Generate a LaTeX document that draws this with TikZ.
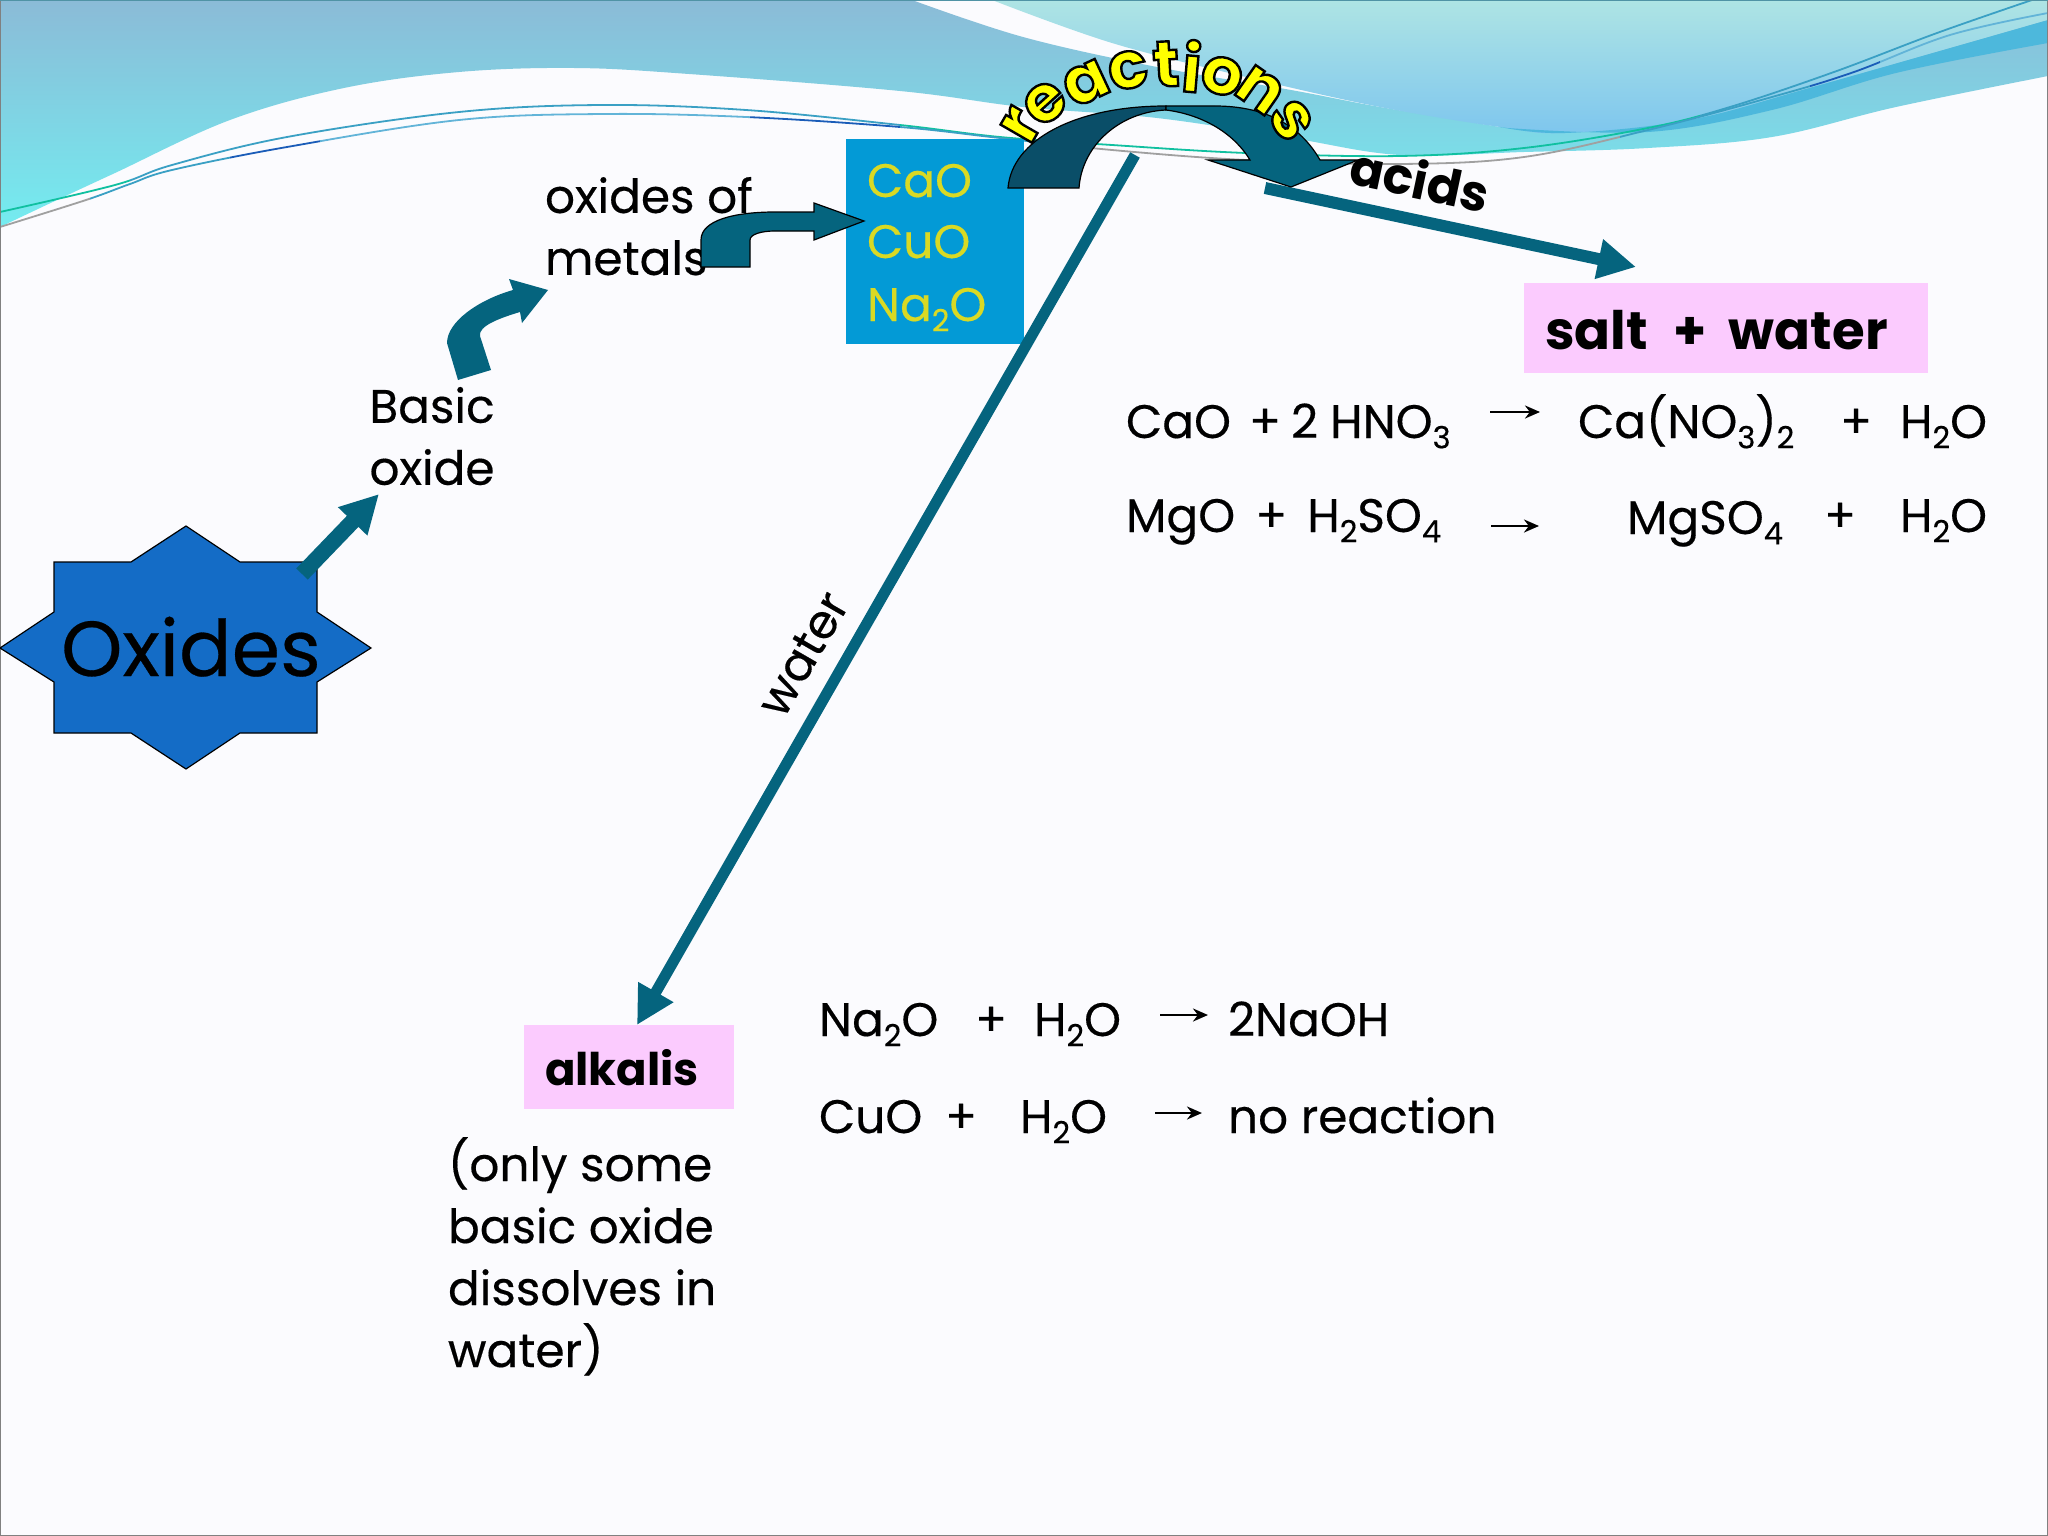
\documentclass[tikz,border=0pt]{standalone}
\usepackage{fontspec}
\usepackage{graphicx}
\setmainfont{Poppins}[FakeBold=0.35,BoldFeatures={FakeBold=0}]
\usetikzlibrary{arrows.meta}
\definecolor{bgc}{HTML}{FBFBFE}
\definecolor{teald}{HTML}{05647E}
\definecolor{tealdd}{HTML}{0A4E68}
\definecolor{boxblue}{HTML}{039AD6}
\definecolor{starblue}{HTML}{146CC6}
\definecolor{pinkb}{HTML}{FBCBFE}
\definecolor{yel}{HTML}{D9D924}
\definecolor{yelb}{HTML}{FFFF00}
\definecolor{bOneTop}{HTML}{8BBBD7}
\definecolor{bOneBot}{HTML}{74ECF0}
\definecolor{bTwo}{HTML}{4DB8DC}
\definecolor{bThreeTop}{HTML}{AEE4E4}
\definecolor{bThreeBot}{HTML}{7EC6EE}
\definecolor{lgreen}{HTML}{10C0A0}
\definecolor{lteal}{HTML}{3AA0C4}
\definecolor{lblue}{HTML}{1A5CB8}
\definecolor{lsky}{HTML}{62B4D8}
\definecolor{lgray}{HTML}{A0A0A0}
\newcommand{\lw}[1]{\raisebox{-0.22em}{\scalebox{.65}{#1}}}
\newcommand{\outl}[1]{\special{pdf:code 2 Tr 2.4 w 0 0 0 RG}#1\special{pdf:code 0 Tr}}
\newcommand{\lineA}{(0,212) (115,185) (172,165) (287,137) (459,112) (603,105) (746,110) (900,125) (1000,137) (1112,145) (1246,153) (1400,156) (1524,148) (1648,128) (1730,107) (1834,72) (1937,33) (2032,0)}
\newcommand{\lineB}{(0,227) (86,200) (130,184) (172,170) (287,147) (459,120) (603,114) (746,117) (900,127) (1000,138) (1112,150) (1246,160) (1400,164) (1524,157) (1648,130) (1772,97) (1854,72) (1950,35) (2048,13)}
\newcommand{\seg}[4]{\begin{scope}\clip (#3,0) rectangle (#4,300);\draw[thinline,#2] plot[smooth,tension=.6] coordinates {#1};\end{scope}}
\tikzset{
  txt/.style={inner sep=0pt,outer sep=0pt,font=\fontsize{47}{62}\selectfont,text=black},
  eq/.style={txt,anchor=base west},
  boldtxt/.style={inner sep=0pt,outer sep=0pt,font=\fontsize{50}{62}\selectfont\bfseries,text=black},
  archl/.style={inner sep=0pt,outer sep=0pt,font=\fontsize{65}{65}\selectfont\bfseries,text=yelb},
  bigarrow/.style={teald,line width=#1,-{Triangle[length=38pt,width=38pt]}},
  smallarrow/.style={black,line width=2.5pt,-{Stealth[length=15pt,width=13pt]}},
  blockarrow/.style={fill=teald,draw=black,line width=1.2pt,line join=miter},
  thinline/.style={line width=1.8pt}
}
\begin{document}
\begin{tikzpicture}[x=1pt,y=-1pt]
\useasboundingbox (0,0) rectangle (2048,1536);
\fill[bgc] (0,0) rectangle (2048,1536);
% swooshes
\path[top color=bOneTop,bottom color=bOneBot]
  (0,0) -- (0,227) -- plot[smooth,tension=.6] coordinates {(0,227) (57,200) (115,173) (230,120) (344,88) (459,72) (574,68) (689,74) (900,91) (1023,107) (1157,118) (1291,138) (1400,155) (1524,152) (1648,148) (1772,137) (1896,107) (2048,76)}
  -- (2048,20) -- (1500,127) -- plot[smooth,tension=.6] coordinates {(1500,127) (1380,107) (1291,90) (1157,67) (1023,37) (912,0)} -- cycle;
\path[top color=bThreeTop,bottom color=bThreeBot]
  (992,0) -- plot[smooth,tension=.6] coordinates {(992,0) (1112,43) (1246,77) (1380,107) (1500,127) (1565,133) (1689,120) (1813,87) (2048,20)} -- (2048,0) -- cycle;
\fill[bTwo] plot[smooth,tension=.6] coordinates {(1500,127) (1565,133) (1689,120) (1813,87) (2048,20)} -- plot[smooth,tension=.6] coordinates {(2048,43) (1896,73) (1772,110) (1648,132) (1507,128)} -- cycle;
% thin lines
\seg{\lineA}{lgreen}{0}{130}
\seg{\lineA}{lteal}{130}{900}
\seg{\lineA}{lgreen}{900}{1700}
\seg{\lineA}{lteal}{1700}{2048}
\seg{\lineB}{lgray}{0}{90}
\seg{\lineB}{lteal}{90}{230}
\seg{\lineB}{lblue}{230}{320}
\seg{\lineB}{lsky}{320}{750}
\seg{\lineB}{lblue}{750}{900}
\seg{\lineB}{lteal}{900}{1080}
\seg{\lineB}{lgray}{1080}{1620}
\seg{\lineB}{lteal}{1620}{1810}
\seg{\lineB}{lblue}{1810}{1880}
\seg{\lineB}{lsky}{1880}{2048}
% frame
\draw[gray,line width=2pt] (0,0) -- (0,1536) -- (2048,1536) -- (2048,0);
\draw[teald!70,line width=3pt] (0,0) -- (2048,0);
% star
\draw[fill=starblue,draw=black,line width=1.2pt] (0,648) -- (54,612) -- (54,562) -- (131,562) -- (186,526) -- (240,562) -- (317,562) -- (317,612) -- (371,648) -- (317,682) -- (317,733) -- (240,733) -- (186,769) -- (131,733) -- (54,733) -- (54,682) -- cycle;
\node[txt,anchor=base,font=\fontsize{78}{78}\selectfont] (oxides) at (191,676) {Oxides};
% box
\fill[boxblue] (846,139) rectangle (1024,344);
\node[eq,text=yel] (cao) at (867,197) {CaO};
\node[eq,text=yel] (cuo) at (867,258) {CuO};
\node[eq,text=yel] (nao) at (867,321) {Na\lw{2}O};
% labels
\node[txt,align=left,anchor=north west] (oxmet) at (545,177) {oxides of\\metals};
\node[txt,align=center,anchor=north] (basic) at (432,387) {Basic\\oxide};
\node[txt,rotate=60] (water) at (803,654) {water};
\node[boldtxt,rotate=-12] (acids) at (1420,179) {acids};
% pink
\fill[pinkb] (1524,283) rectangle (1928,373);
\fill[pinkb] (524,1025) rectangle (734,1109);
\node[boldtxt,anchor=base west,font=\fontsize{53}{62}\selectfont\bfseries] (salt) at (1545,349) {salt\hspace{26pt}+\hspace{22pt}water};
\node[boldtxt,anchor=base west,font=\fontsize{45}{62}\selectfont\bfseries] (alk) at (545,1085) {alkalis};
\node[txt,align=left,anchor=base west] (note) at (448,1367) {(only some\\basic oxide\\dissolves in\\water)};
% equations
\node[eq] (a1) at (1126,438) {CaO\hspace{18pt}+\hspace{10pt}2\hspace{12pt}HNO\lw{3}};
\node[eq] (a2) at (1578,438) {Ca(NO\lw{3})\lw{2}};
\node[eq] (a3) at (1840,438) {+};
\node[eq] (a4) at (1900,438) {H\lw{2}O};
\node[eq] (b1) at (1126,532) {MgO\hspace{20pt}+\hspace{20pt}H\lw{2}SO\lw{4}};
\node[eq] (b2) at (1627,534) {MgSO\lw{4}};
\node[eq] (b3) at (1824,532) {+};
\node[eq] (b4) at (1900,532) {H\lw{2}O};
\node[eq] (c1) at (819,1036) {Na\lw{2}O};
\node[eq] (c2) at (975,1036) {+};
\node[eq] (c3) at (1034,1036) {H\lw{2}O};
\node[eq] (c4) at (1228,1036) {2NaOH};
\node[eq] (d1) at (819,1133) {CuO};
\node[eq] (d2) at (945,1133) {+};
\node[eq] (d3) at (1020,1133) {H\lw{2}O};
\node[eq] (d4) at (1228,1133) {no reaction};
% small arrows
\coordinate (r1a) at (1490,412); \coordinate (r1b) at (1540,412);
\coordinate (r2a) at (1491,526); \coordinate (r2b) at (1539,526);
\coordinate (r3a) at (1160,1015); \coordinate (r3b) at (1208,1015);
\coordinate (r4a) at (1155,1113); \coordinate (r4b) at (1202,1113);
\draw[smallarrow] (r1a) -- (r1b);
\draw[smallarrow] (r2a) -- (r2b);
\draw[smallarrow] (r3a) -- (r3b);
\draw[smallarrow] (r4a) -- (r4b);
% straight thick arrows
\coordinate (oxa) at (302,574); \coordinate (oxb) at (379,494);
\coordinate (aca) at (1265,188); \coordinate (acb) at (1636,267);
\coordinate (waa) at (1135,155); \coordinate (wab) at (637,1025);
\draw[bigarrow=16pt] (oxa) -- (oxb);
\draw[bigarrow=12pt] (aca) -- (acb);
\draw[bigarrow=11pt] (waa) -- (wab);
% curved arrow no outline
\fill[teald] (458,380) -- (447,343) .. controls (447,322) and (478,300) .. (513,290) -- (509,279) -- (548,290) -- (522,323) -- (520,312) .. controls (500,318) and (478,326) .. (480,336) -- (491,370) -- cycle;
% block arrow metals to box
\draw[blockarrow] (701,267) -- (750,267) -- (750,240) .. controls (750,234) and (762,231) .. (775,231) -- (814,231) -- (814,240) -- (864,221) -- (814,203) -- (814,212) -- (775,212) .. controls (735,212) and (701,220) .. (701,240) -- cycle;
% big arc arrow
\draw[blockarrow,fill=tealdd] (1008,188) .. controls (1012,140) and (1075,106) .. (1166,106) -- (1166,110) .. controls (1120,112) and (1082,145) .. (1079,188) -- cycle;
\draw[blockarrow] (1166,106) -- (1215,106) .. controls (1265,106) and (1300,125) .. (1320,160) -- (1358,160) -- (1291,187) -- (1208,160) -- (1250,160) .. controls (1235,135) and (1205,115) .. (1166,110) -- cycle;
% reactions letters
\node[archl,rotate=60] (lr) at (1021,125) {\outl{r}};
\node[archl,rotate=42] (le) at (1045,103) {\outl{e}};
\node[archl,rotate=25] (la) at (1086,83) {\outl{a}};
\node[archl,rotate=12] (lc) at (1128,70) {\outl{c}};
\node[archl,rotate=3] (lt) at (1166,64) {\outl{t}};
\node[archl,rotate=-5] (li) at (1192,66) {\outl{i}};
\node[archl,rotate=-18] (lo) at (1222,76) {\outl{o}};
\node[archl,rotate=-35] (ln) at (1260,90) {\outl{n}};
\node[archl,rotate=-55] (ls) at (1291,120) {\outl{s}};
\end{tikzpicture}
\end{document}
